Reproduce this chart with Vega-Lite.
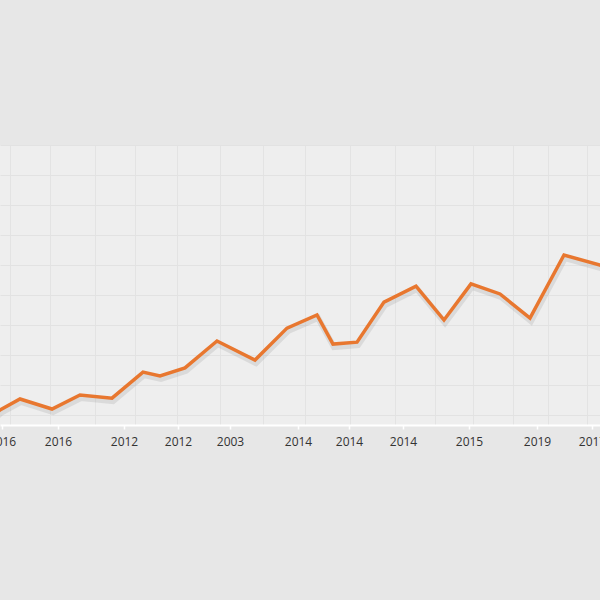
{
  "$schema": "https://vega.github.io/schema/vega-lite/v6.json",
  "width": 600,
  "height": 280,
  "autosize": {"type": "none"},
  "padding": {"left": 0, "right": 0, "top": 145, "bottom": 175},
  "background": "#e7e7e7",
  "config": {
    "view": {"stroke": null, "fill": "#eeeeee"},
    "font": "Open Sans"
  },
  "data": {
    "values": [
      {"t": -1.0, "v": 2.0},
      {"t": 0.0, "v": 5.4},
      {"t": 2.0, "v": 9.3},
      {"t": 5.2, "v": 5.7},
      {"t": 8.0, "v": 10.7},
      {"t": 11.2, "v": 9.6},
      {"t": 14.3, "v": 18.9},
      {"t": 16.0, "v": 17.5},
      {"t": 18.5, "v": 20.4},
      {"t": 21.7, "v": 30.0},
      {"t": 25.5, "v": 23.2},
      {"t": 28.7, "v": 34.6},
      {"t": 31.7, "v": 39.3},
      {"t": 33.3, "v": 28.9},
      {"t": 35.7, "v": 29.6},
      {"t": 38.4, "v": 43.9},
      {"t": 41.6, "v": 49.6},
      {"t": 44.4, "v": 37.5},
      {"t": 47.1, "v": 50.4},
      {"t": 50.0, "v": 46.8},
      {"t": 53.0, "v": 38.2},
      {"t": 56.4, "v": 60.7},
      {"t": 60.0, "v": 57.1},
      {"t": 62.0, "v": 54.0}
    ]
  },
  "resolve": {"axis": {"x": "independent", "y": "independent"}},
  "layer": [
    {
      "mark": {"type": "line", "color": "#8a8a8a", "opacity": 0.2, "strokeWidth": 6, "yOffset": 3, "xOffset": 1, "clip": true, "strokeJoin": "miter"},
      "encoding": {
        "x": {
          "field": "t", "type": "quantitative",
          "scale": {"domain": [0, 60], "nice": false, "zero": false},
          "axis": {
            "orient": "bottom",
            "values": [1.0, 5.0, 9.5, 13.5, 17.7, 22.0, 26.3, 30.5, 35.0, 39.5, 43.5, 47.3, 51.3, 54.8, 58.7],
            "grid": true, "gridColor": "#e3e3e3", "gridWidth": 1,
            "labels": false, "ticks": false, "domain": false, "title": null
          }
        },
        "y": {
          "field": "v", "type": "quantitative",
          "scale": {"domain": [0, 100], "nice": false},
          "axis": {
            "orient": "left",
            "values": [3.6, 14.3, 25.0, 35.7, 46.4, 57.1, 67.9, 78.6, 89.3, 100],
            "grid": true, "gridColor": "#e2e2e2", "gridWidth": 1,
            "labels": false, "ticks": false, "domain": false, "title": null
          }
        }
      }
    },
    {
      "mark": {"type": "line", "color": "#e8772f", "strokeWidth": 3.5, "clip": true, "strokeJoin": "miter"},
      "encoding": {
        "x": {
          "field": "t", "type": "quantitative",
          "scale": {"domain": [0, 60], "nice": false, "zero": false},
          "axis": {
            "orient": "bottom",
            "values": [0.2, 5.8, 12.4, 17.8, 23.0, 29.8, 34.9, 40.3, 46.9, 53.7, 59.2],
            "labelExpr": "datum.value == 0.2 ? '2016' : datum.value == 5.8 ? '2016' : datum.value == 12.4 ? '2012' : datum.value == 17.8 ? '2012' : datum.value == 23.0 ? '2003' : datum.value == 29.8 ? '2014' : datum.value == 34.9 ? '2014' : datum.value == 40.3 ? '2014' : datum.value == 46.9 ? '2015' : datum.value == 53.7 ? '2019' : '2017'",
            "grid": false,
            "domainColor": "#ffffff", "domainWidth": 2,
            "tickColor": "#ffffff", "tickSize": 4, "tickWidth": 1.5,
            "labelColor": "#333333", "labelFontSize": 12, "labelPadding": 7,
            "labelFlush": false, "labelOverlap": false,
            "title": null
          }
        },
        "y": {
          "field": "v", "type": "quantitative",
          "scale": {"domain": [0, 100], "nice": false},
          "axis": null
        }
      }
    }
  ]
}
